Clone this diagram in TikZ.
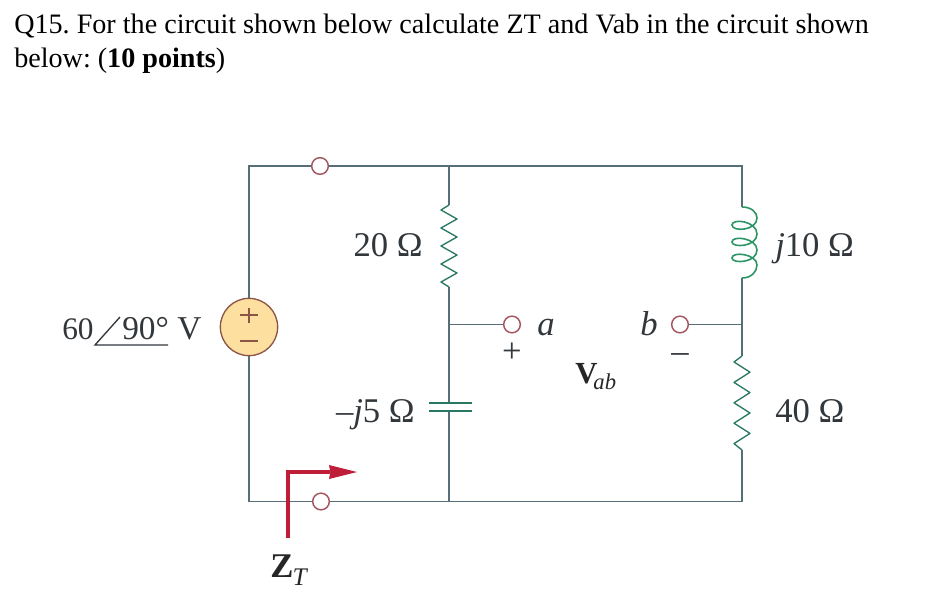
\documentclass[tikz,border=0pt]{standalone}
\usepackage{fontspec}
\setmainfont{Liberation Serif}
\usetikzlibrary{arrows.meta}
\definecolor{wirec}{RGB}{85,110,120}
\definecolor{rc}{RGB}{40,120,100}
\definecolor{coilc}{RGB}{45,150,100}
\definecolor{termc}{RGB}{165,85,95}
\definecolor{srcf}{RGB}{253,224,160}
\definecolor{srcd}{RGB}{140,85,70}
\definecolor{zarrow}{RGB}{190,30,55}
\definecolor{labelc}{RGB}{50,55,60}
\tikzset{
 wire/.style={draw=wirec,line width=0.95pt},
 comp/.style={draw=rc,line width=1pt,line join=round},
 coil/.style={draw=coilc,line width=1.2pt},
 term/.style={circle,draw=termc,fill=white,line width=1.1pt,minimum size=12.5pt,inner sep=0pt},
 src/.style={circle,draw=srcd,fill=srcf,line width=1pt,minimum size=43pt,inner sep=0pt},
 lab/.style={text=labelc,font=\fontsize{26}{28}\selectfont,inner sep=0pt},
 head/.style={text=black,font=\fontsize{21.1}{25}\selectfont,inner sep=0pt,anchor=base west},
 zlab/.style={text=black!85,inner sep=0pt}
}
\begin{document}
\frenchspacing
\begin{tikzpicture}[x=0.75pt,y=-0.75pt]
\useasboundingbox (0,0) rectangle (926,614);
\fill[white] (0,0) rectangle (926,614);
\node[head] (h1) at (14,33) {Q15. For the circuit shown below calculate ZT and Vab in the circuit shown};
\node[head] (h2) at (14,67) {below: (\textbf{10 points})};
\coordinate (tl) at (249,166);
\coordinate (tm) at (449,166);
\coordinate (tr) at (742,166);
\coordinate (bl) at (249,501.5);
\coordinate (bm) at (449,501.5);
\coordinate (br) at (742,501.5);
\coordinate (mm) at (449,324.5);
\coordinate (mr) at (742,324.5);
\coordinate (rt) at (449,205);
\coordinate (rb) at (449,287);
\coordinate (ct) at (449,403);
\coordinate (cb) at (449,411);
\coordinate (lt) at (742,207);
\coordinate (lb) at (742,278);
\coordinate (r2t) at (742,356);
\coordinate (r2b) at (742,450);
\node[src] (vs) at (249,327) {};
\node[term] (t1) at (320,166) {};
\node[term] (t2) at (321,501.5) {};
\node[term] (ta) at (512,324.5) {};
\node[term] (tb) at (680,324.5) {};
\draw[wire] (vs.north) -- (tl) -- (t1);
\draw[wire] (t1) -- (tm) -- (tr) -- (lt);
\draw[wire] (tm) -- (rt);
\draw[wire] (rb) -- (mm) -- (ct);
\draw[wire] (cb) -- (bm);
\draw[wire] (mm) -- (ta);
\draw[wire] (tb) -- (mr);
\draw[wire] (lb) -- (r2t);
\draw[wire] (r2b) -- (br) -- (bm) -- (t2) -- (bl) -- (vs.south);
% resistors
\draw[comp] (rt) -- ++(-8,5) -- ++(16,9) -- ++(-16,9) -- ++(16,9) -- ++(-16,9) -- ++(16,9) -- ++(-16,9) -- ++(16,9) -- ++(-16,9) -- (rb);
\draw[comp] (r2t) -- ++(-8,6) -- ++(16,10.2) -- ++(-16,10.2) -- ++(16,10.2) -- ++(-16,10.2) -- ++(16,10.2) -- ++(-16,10.2) -- ++(16,10.2) -- ++(-16,10.2) -- (r2b);
% capacitor
\draw[comp] (429,403) -- (472,403);
\draw[comp] (429,411) -- (472,411);
% inductor
\draw[coil] (lt) .. controls (751,207) and (757,212) .. (757,218)
 .. controls (757,231) and (732,232) .. (732,225) .. controls (732,218) and (757,221) .. (757,234)
 .. controls (757,247) and (732,248) .. (732,242) .. controls (732,235) and (757,238) .. (757,250)
 .. controls (757,263) and (732,264) .. (732,258) .. controls (732,251) and (757,254) .. (757,265)
 .. controls (757,272) and (751,278) .. (lb);
% source marks
\draw[srcd,line width=0.9pt] (249,308) -- (249,323) (240,315) -- (258,315);
\draw[srcd,line width=1.1pt] (240,341) -- (258,341);
% polarity
\node[lab] (plus) at (512,353) {+};
\node[lab] (minus) at (680,358) {–};
% Z_T arrow
\coordinate (zs) at (288,538);
\coordinate (zc) at (288,472);
\coordinate (ze) at (357,472);
\draw[zarrow,line width=3.4pt,-{Stealth[length=21pt,width=10.5pt,inset=1pt,line width=0pt]}] (zs) -- (zc) -- (ze);
% labels
\node[lab,anchor=base east] (l20) at (423,256) {20 Ω};
\node[lab,anchor=base east] (l5) at (415,422) {\textit{–j}5 Ω};
\node[lab,anchor=base west] (l10) at (775,256) {\textit{j}10 Ω};
\node[lab,anchor=base west] (l40) at (775,422) {40 Ω};
\node[lab,anchor=base west] (la) at (537,335) {\textit{a}};
\node[lab,anchor=base west] (lb2) at (640,335) {\textit{b}};
\node[zlab,anchor=base west,font=\fontsize{23}{25}\selectfont] (vab) at (575,383) {\textbf{V}\kern-3pt\raisebox{-5pt}{\fontsize{17}{18}\selectfont\textit{ab}}};
\node[zlab,anchor=base west,font=\fontsize{26}{27}\selectfont] (zt) at (270,577) {\textbf{Z}\kern-0.5pt\raisebox{-6pt}{\fontsize{19}{19}\selectfont\textit{T}}};
\node[lab,anchor=base west,font=\fontsize{23.5}{25}\selectfont] (v1) at (62,339) {60};
\node[lab,anchor=base west,font=\fontsize{25}{27}\selectfont] (v2) at (122,339) {90° V};
\draw[labelc,line width=1pt] (120,317) -- (95,345) -- (168,345);
\end{tikzpicture}
\end{document}
